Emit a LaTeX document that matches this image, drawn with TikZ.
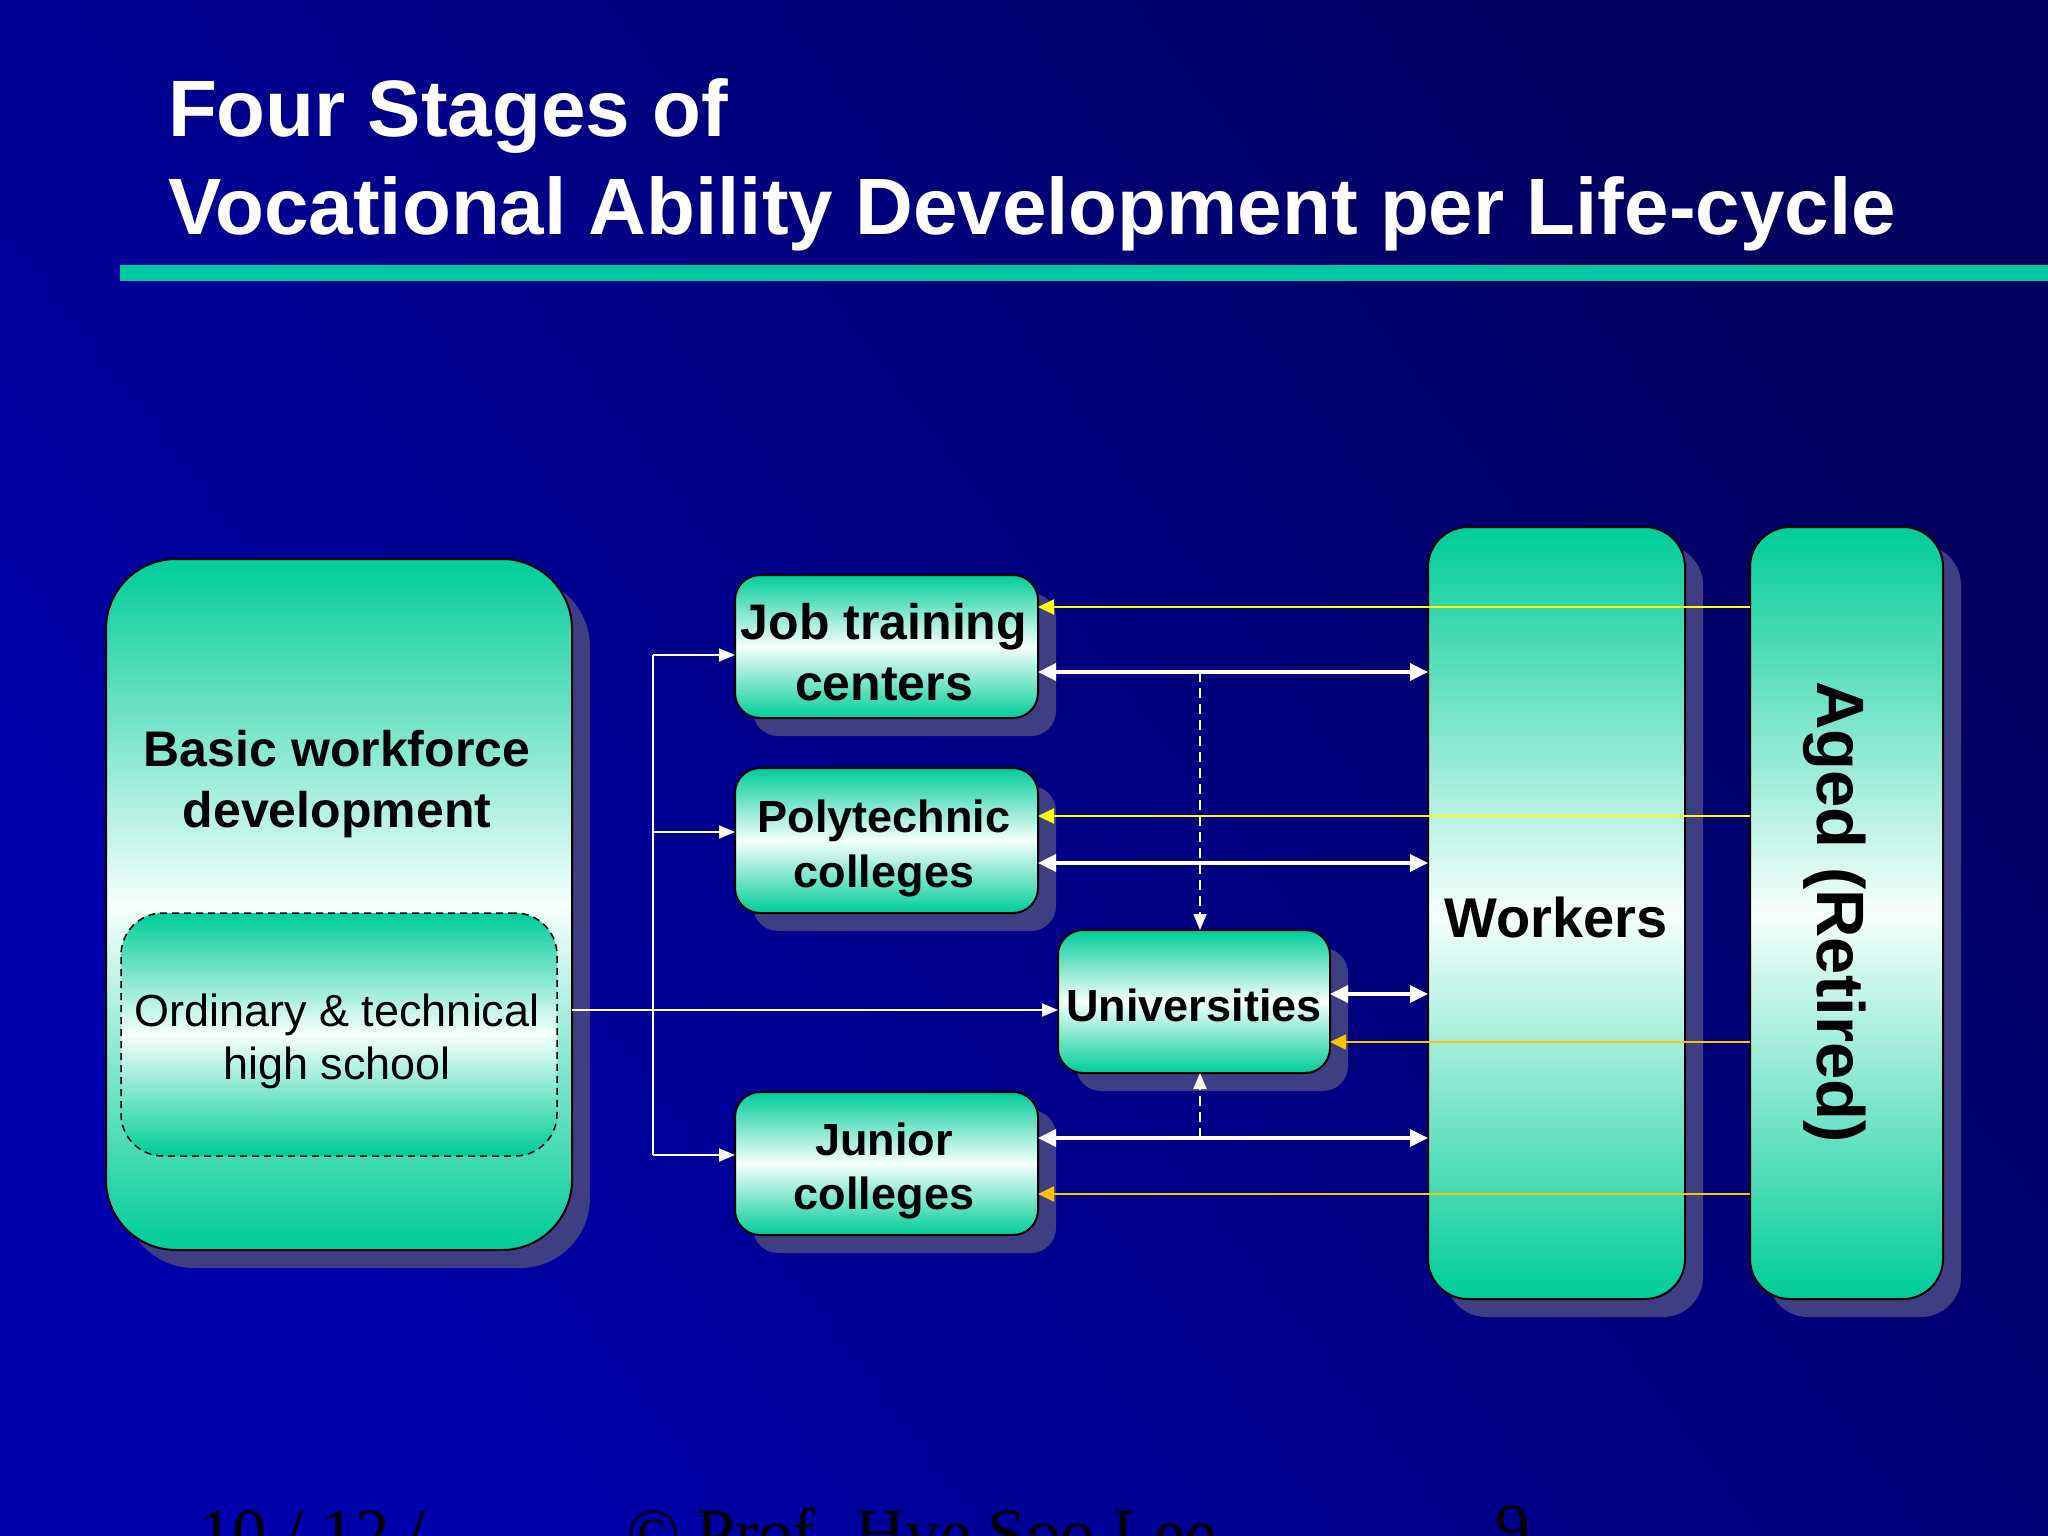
\documentclass[tikz,border=0pt]{standalone}
\usepackage{fontspec}
\setmainfont{Liberation Sans}
\newfontfamily\footserif{Liberation Serif}
\usetikzlibrary{arrows.meta,shadows}

\definecolor{tealc}{RGB}{0,204,153}
\definecolor{whitec}{RGB}{246,255,252}
\definecolor{shadowc}{RGB}{62,62,130}
\definecolor{bglight}{RGB}{0,0,172}
\definecolor{bgdark}{RGB}{0,0,94}
\definecolor{rulec}{RGB}{0,200,160}
\definecolor{yellowc}{RGB}{255,255,0}
\definecolor{goldc}{RGB}{255,196,0}

\begin{document}
\begin{tikzpicture}[x=1pt,y=-1pt,
  every node/.style={inner sep=0pt, outer sep=0pt},
  boxbase/.style={draw=black, line width=2pt, top color=tealc, bottom color=tealc,
    middle color=whitec, align=center, text=black},
  shad/.style={drop shadow={shadow xshift=18pt, shadow yshift=-18pt, fill=shadowc, opacity=1}},
  smallbox/.style={boxbase, shad, rounded corners=25pt, minimum height=143pt},
  tallbox/.style={boxbase, shad, rounded corners=40pt, minimum height=772pt},
  boxtext/.style={align=center, text=black},
  thinln/.style={draw=white, line width=2pt},
  thinarr/.style={thinln, -{Triangle[length=16pt,width=13pt]}},
  dblarr/.style={draw=white, line width=3.5pt, {Triangle[length=18pt,width=17pt]}-{Triangle[length=18pt,width=17pt]}},
  dsharr/.style={draw=white, line width=2pt, dash pattern=on 10pt off 6pt, -{Triangle[length=16pt,width=13pt]}},
  yarr/.style={draw=yellowc, line width=2pt, -{Triangle[length=16pt,width=15pt]}},
  garr/.style={draw=goldc, line width=2pt, -{Triangle[length=16pt,width=15pt]}},
  titlefont/.style={font=\bfseries\fontsize{80}{96}\selectfont, text=white, anchor=base west},
  footfont/.style={font=\footserif\fontsize{69}{80}\selectfont, text=black, anchor=base west}
]
\useasboundingbox (0,0) rectangle (2048,1536);
\shade[left color=bglight, right color=bgdark, shading angle=127] (0,0) rectangle (2048,1536);

% title
\node[titlefont] (t1) at (168,137) {Four Stages of};
\node[titlefont] (t2) at (168,234) {Vocational Ability Development per Life-cycle};
\fill[rulec] (120,265) rectangle (2048,281);

% footer
\node[footfont] (f1) at (198,1556) {10 / 12 /};
\node[footfont] (f2) at (627,1556) {\textcopyright\ Prof. Hye Soo Lee};
\node[footfont] (f3) at (1495,1551) {9};

% left box
\node[boxbase, shad, rounded corners=70pt, minimum width=466pt, minimum height=691pt] (bw) at (339,904.5) {};
\node[boxtext, font=\bfseries\fontsize{50}{61}\selectfont] (bwt) at (337,784) {Basic workforce\\development};
\node[boxbase, line width=1.5pt, dash pattern=on 7pt off 5pt, rounded corners=42pt,
  minimum width=436pt, minimum height=243pt] (hs) at (339,1034.5) {};
\node[boxtext, font=\fontsize{45}{53}\selectfont] (hst) at (337,1041) {Ordinary \& technical\\high school};

% middle boxes
\node[smallbox, minimum width=303pt] (jt) at (886.5,646.5) {};
\node[boxtext, font=\bfseries\fontsize{50}{61}\selectfont] (jtt) at (884,652) {Job training\\centers};
\node[smallbox, minimum width=303pt, minimum height=145pt] (pc) at (886.5,840.5) {};
\node[boxtext, font=\bfseries\fontsize{45}{55}\selectfont] (pct) at (884,848) {Polytechnic\\colleges};
\node[smallbox, minimum width=272pt] (un) at (1194,1001.5) {};
\node[boxtext, font=\bfseries\fontsize{45}{55}\selectfont] (unt) at (1194,1005) {Universities};
\node[smallbox, minimum width=303pt] (jc) at (886.5,1163.5) {};
\node[boxtext, font=\bfseries\fontsize{45}{54}\selectfont] (jct) at (884,1171) {Junior\\colleges};

% right boxes
\node[tallbox, minimum width=257pt] (wk) at (1556.5,913) {};
\node[boxtext, font=\bfseries\fontsize{56}{60}\selectfont] (wkt) at (1556,917) {Workers};
\node[tallbox, minimum width=193pt] (ag) at (1846.5,913) {};
\node[rotate=-90, font=\bfseries\fontsize{67}{70}\selectfont] (agt) at (1835,912) {Aged (Retired)};

% left tree
\coordinate (trtop) at (653,655);
\coordinate (trmid) at (653,832);
\coordinate (trbot) at (653,1155);
\draw[thinln] (trtop) -- (trbot);
\draw[thinarr] (trtop) -- (trtop -| jt.west);
\draw[thinarr] (trmid) -- (trmid -| pc.west);
\draw[thinarr] (trbot) -- (trbot -| jc.west);
\draw[thinarr] (bw.east |- 0,1010) -- (un.west |- 0,1010);

% double arrows to workers
\draw[dblarr] (jt.east |- 0,672) -- (wk.west |- 0,672);
\draw[dblarr] (pc.east |- 0,863) -- (wk.west |- 0,863);
\draw[dblarr] (un.east |- 0,994) -- (wk.west |- 0,994);
\draw[dblarr] (jc.east |- 0,1138) -- (wk.west |- 0,1138);

% dashed arrows to universities
\coordinate (dtop) at (1200,672);
\coordinate (dbot) at (1200,1138);
\draw[dsharr] (dtop) -- (dtop |- un.north);
\draw[dsharr] (dbot) -- (dbot |- un.south);

% arrows from the aged
\draw[yarr] (ag.west |- 0,607) -- (jt.east |- 0,607);
\draw[yarr] (ag.west |- 0,816) -- (pc.east |- 0,816);
\draw[garr] (ag.west |- 0,1042) -- (un.east |- 0,1042);
\draw[garr] (ag.west |- 0,1194) -- (jc.east |- 0,1194);
\end{tikzpicture}
\end{document}
